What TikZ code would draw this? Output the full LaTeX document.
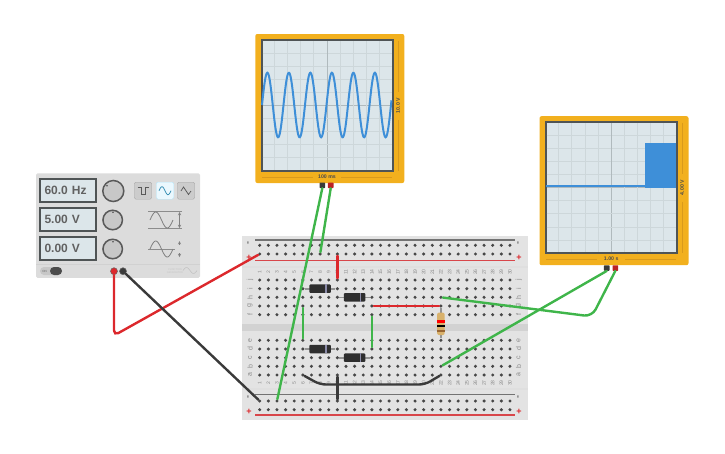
\documentclass[tikz,border=0pt]{standalone}
\usepackage{fontspec}
\setmainfont{Liberation Sans}
\usetikzlibrary{calc}
\definecolor{caseOrange}{HTML}{F2B01E}
\definecolor{caseLine}{HTML}{D99A1C}
\definecolor{screenBlue}{HTML}{DCE6EA}
\definecolor{gridGray}{HTML}{CDD7DA}
\definecolor{gridMid}{HTML}{B0BABD}
\definecolor{traceBlue}{HTML}{3E8FD8}
\definecolor{boardGray}{HTML}{E3E3E3}
\definecolor{bandGray}{HTML}{D2D2D2}
\definecolor{panelGray}{HTML}{DCDCDC}
\definecolor{darkEdge}{HTML}{4F5455}
\definecolor{wireRed}{HTML}{DC282C}
\definecolor{wireGreen}{HTML}{3FB54A}
\definecolor{wireBlack}{HTML}{3A3A3A}
\definecolor{railRed}{HTML}{D8464A}
\definecolor{tanBody}{HTML}{D9B26C}
\tikzset{
  holeDecorate/.style={shape=circle,inner sep=0pt,minimum size=3.4pt,fill=black!72},
  wireDecorate/.style={-,line width=2.4pt,line cap=round},
  numberDecorate/.style={inner sep=0pt,rotate=90,text=black!45,font=\fontsize{5}{5}\selectfont},
  railSign/.style={inner sep=0pt,font=\bfseries\fontsize{9}{9}\selectfont},
  scopeCase/.style={shape=rectangle,rounded corners=2pt,fill=caseOrange,minimum size=149pt,inner sep=0pt},
  scopeScreen/.style={shape=rectangle,draw=darkEdge,line width=2pt,fill=screenBlue,minimum size=131pt,inner sep=0pt},
  scopeText/.style={inner sep=0pt,text=black!70,font=\bfseries\fontsize{5.2}{5}\selectfont},
  scopeTerminal/.style={shape=rectangle,rounded corners=0.6pt,minimum width=5.6pt,minimum height=5.5pt,inner sep=0pt},
  displayBox/.style={shape=rectangle,draw=darkEdge,line width=2pt,fill=screenBlue,text=black!62,
    text width=47pt,inner xsep=4.5pt,inner ysep=0pt,minimum height=23.5pt,align=left,
    font=\bfseries\fontsize{12}{12}\selectfont},
  knobDecorate/.style={shape=circle,draw=black!65,line width=1.5pt,fill=black!22,inner sep=0pt},
  waveButton/.style={shape=rectangle,rounded corners=1.5pt,draw=black!35,fill=black!20,minimum width=17.5pt,minimum height=17pt,inner sep=0pt},
  diodeBody/.style={shape=rectangle,rounded corners=1pt,fill=black!82,minimum width=21.5pt,minimum height=8.5pt,inner sep=0pt},
  diodeBand/.style={shape=rectangle,fill=blue!25!black!45,minimum width=1.6pt,minimum height=8.5pt,inner sep=0pt},
  leadDecorate/.style={-,line width=1.6pt,draw=black!42}
}
\begin{document}
\begin{tikzpicture}[x=1pt,y=-1pt]
\useasboundingbox (0,0) rectangle (725,453);
%% breadboard
\node (board) at (385,328) [shape=rectangle,fill=boardGray,minimum width=286pt,minimum height=184pt,inner sep=0pt] {};
\fill[bandGray] (242,324) rectangle (528,331);
\fill[bandGray!70] (242,266) rectangle (528,268);
\fill[bandGray!70] (242,388) rectangle (528,390);
\foreach \y/\linecolor/\linewd in {240/black!55/1.4, 260.7/railRed/1.2, 394.7/black!55/1.4, 415/railRed/1.2}
{
  \draw[line width=\linewd pt,draw=\linecolor] (255,\y) -- (515,\y);
}
%% rail signs
\foreach \signname/\x/\y/\sign/\signrot/\signcolor in {
  sa/249/243/-/90/black!60, sb/249/258/+/0/wireRed, sc/519/243/-/90/black!60, sd/519/258/+/0/wireRed,
  se/249/397/-/90/black!60, sf/249/412/+/0/wireRed, sg/519/397/-/90/black!60, sh/519/412/+/0/wireRed}
{
  \node (\signname) at (\x,\y) [railSign,text=\signcolor,rotate=\signrot] {\sign};
}
%% holes and numbers
\foreach \c in {1,...,30}
{
  \pgfmathsetmacro{\colx}{259.7+8.63*(\c-1)}
  \foreach \rowname/\rowy in {
    tm/245.3, tp/254, j/280, i/288.7, h/297.3, g/306, f/314.7,
    e/340.3, d/349, c/357.7, b/366.3, a/375, bm/401, bp/409.7}
  {
    \node (\rowname\c) at (\colx,\rowy) [holeDecorate] {};
  }
  \node (numTop\c) at (\colx,272) [numberDecorate] {\c};
  \node (numBot\c) at (\colx,383) [numberDecorate] {\c};
}
%% row letters
\foreach \rowname/\rowy in {j/280, i/288.7, h/297.3, g/306, f/314.7, e/340.3, d/349, c/357.7, b/366.3, a/375}
{
  \node (letL\rowname) at (250,\rowy) [numberDecorate,font=\fontsize{7}{7}\selectfont] {\rowname};
  \node (letR\rowname) at (518.5,\rowy) [numberDecorate,font=\fontsize{7}{7}\selectfont] {\rowname};
}
%% diodes
\foreach \diodename/\startnode/\endnode in {diodeA/i6/i10, diodeB/h10/h14, diodeC/d6/d10, diodeD/c10/c14}
{
  \draw[leadDecorate] (\startnode) -- (\endnode);
  \node (\diodename) at ($(\startnode)!0.5!(\endnode)$) [diodeBody] {};
  \node (\diodename band) at (\diodename.center) [diodeBand,xshift=6pt] {};
}
%% resistor
\draw[leadDecorate] (g22) -- (e22);
\node (resistor) at (440.9,323.8) [shape=rectangle,rounded corners=2pt,fill=tanBody,minimum width=7.5pt,minimum height=22.5pt,inner sep=0pt] {};
\foreach \y/\bandcolor/\bandheight in {321.7/red/2.6, 326/black/2, 330.7/brown!80!black/2.4}
{
  \fill[\bandcolor] (437.2,\y-\bandheight/2) rectangle (444.6,\y+\bandheight/2);
}
%% oscilloscopes
\foreach \scopename/\cx/\cy/\timetext/\volttext in {
  scopeA/327/105.5/100 ms/10.0 V, scopeB/611.2/187.7/1.00 s/4.00 V}
{
  \node (\scopename) at (\cx+2.8,\cy+3) [scopeCase] {};
  \node (\scopename screen) at (\cx,\cy) [scopeScreen] {};
  \foreach \k in {-4,...,4}
  {
    \ifnum\k=0 \def\gridcolor{gridMid}\else\def\gridcolor{gridGray}\fi
    \draw[line width=1pt,draw=\gridcolor] (\cx+\k*13.1,\cy-64.5) -- (\cx+\k*13.1,\cy+64.5);
    \draw[line width=1pt,draw=\gridcolor] (\cx-64.5,\cy+\k*13.1) -- (\cx+64.5,\cy+\k*13.1);
  }
  \node (\scopename time) at (\cx,\cy+71.5) [scopeText] {\timetext};
  \node (\scopename volt) at (\cx+71,\cy) [scopeText,rotate=90] {\volttext};
  \draw[line width=0.5pt,draw=caseLine] (\cx-65,\cy+71.5) -- (\cx-14,\cy+71.5) (\cx+14,\cy+71.5) -- (\cx+65,\cy+71.5);
  \draw[line width=0.5pt,draw=caseLine] (\cx+71,\cy-65) -- (\cx+71,\cy-14) (\cx+71,\cy+14) -- (\cx+71,\cy+65);
}
%% traces
\draw[line width=2pt,draw=traceBlue] plot[domain=262:391.5,samples=220,smooth] (\x,{105-32.3*sin((\x-262)*16.744)});
\fill[traceBlue] (546,185) rectangle (645,187.2);
\fill[traceBlue] (645,143.3) rectangle (676,188.3);
%% oscilloscope terminals
\foreach \termname/\x/\y/\termcolor in {
  scopeAneg/322.3/185.3/wireBlack, scopeApos/330.7/185.3/wireRed!85!black,
  scopeBneg/606.7/268/wireBlack, scopeBpos/615.3/268/wireRed!85!black}
{
  \node (\termname) at (\x,\y) [scopeTerminal,fill=\termcolor] {};
}
%% function generator
\node (generator) at (118,225.5) [shape=rectangle,rounded corners=1.5pt,fill=panelGray,minimum width=164pt,minimum height=104.5pt,inner sep=0pt] {};
\fill[black!18] (36,264) rectangle (200,265);
\foreach \dispname/\y/\disptext in {dispFreq/190.5/60.0 Hz, dispAmp/219.5/5.00 V, dispOff/248.4/0.00 V}
{
  \node (\dispname) at (68,\y) [displayBox] {\disptext};
}
\foreach \knobname/\x/\y/\knobsize/\dotx/\doty in {
  knobFreq/113.3/191/21/107/185.7, knobAmp/112.7/220/19.5/113/212.3, knobOff/112.7/249/19.5/113/241.7}
{
  \node (\knobname) at (\x,\y) [knobDecorate,minimum size=\knobsize pt] {};
  \fill[black!70] (\dotx,\doty) circle (0.9);
}
%% waveform buttons
\node (btnSquare) at (143,190.7) [waveButton] {};
\node (btnSine) at (165,190.7) [waveButton,draw=cyan!30,fill=cyan!8] {};
\node (btnTri) at (186,190.7) [waveButton] {};
\draw[line width=0.7pt,draw=black!65] (137.5,187) -- (141,187) -- (141,194) -- (145,194) -- (145,187) -- (148.5,187);
\draw[line width=0.8pt,draw=cyan!70!black] plot[domain=159:171,samples=30,smooth] (\x,{190.7-4*sin((\x-159)*30)});
\draw[line width=0.7pt,draw=black!65] (181,191) -- (183.5,187) -- (188.5,194.5) -- (191,191);
%% amplitude and offset icons
\draw[line width=0.5pt,draw=black!45] (148,211.7) -- (182,211.7) (148,228.3) -- (182,228.3) (148,249) -- (175,249);
\draw[line width=0.8pt,draw=black!50] plot[domain=150:173,samples=40,smooth] (\x,{220-8*sin((\x-150)*15.65)});
\draw[line width=0.8pt,draw=black!50] plot[domain=150:173,samples=40,smooth] (\x,{249-8*sin((\x-150)*15.65)});
\draw[line width=0.5pt,draw=black!50,<->,>=stealth] (179.5,212) -- (179.5,228);
\draw[line width=0.5pt,draw=black!50,->,>=stealth] (179.5,245) -- (179.5,241);
\draw[line width=0.5pt,draw=black!50,->,>=stealth] (179.5,253) -- (179.5,257);
%% switch and maker mark
\node (switchPill) at (51,271) [shape=rectangle,rounded corners=4pt,fill=black!22,minimum width=22pt,minimum height=8pt,inner sep=0pt] {};
\node (switchText) at (44.5,271) [inner sep=0pt,text=black!60,font=\fontsize{3}{3}\selectfont] {ON};
\node (switchKnob) at (56,271) [shape=rectangle,rounded corners=4pt,fill=black!70,minimum width=12pt,minimum height=8pt,inner sep=0pt] {};
\node (makerMark) at (175,270.8) [inner sep=0pt,align=center,text=black!22,font=\fontsize{2.6}{3}\selectfont] {FUNCTION\\GENERATOR};
\draw[line width=0.5pt,draw=black!25] plot[domain=183:197,samples=20,smooth] (\x,{270.5-3*sin((\x-183)*25.7)});
%% generator terminals
\node (genPos) at (114,271.2) [shape=circle,draw=black!60,line width=0.5pt,fill=wireRed,minimum size=7pt,inner sep=0pt] {};
\node (genNeg) at (123,271.2) [shape=circle,draw=black!60,line width=0.5pt,fill=wireBlack,minimum size=7pt,inner sep=0pt] {};
%% bend points
\coordinate (genBend) at (114,335.5);
\coordinate (scopeBend) at (592,316.5);
\coordinate (busLeft) at (320,384.5);
\coordinate (busRight) at (425,384.5);
%% wires
\draw[wireDecorate,draw=wireRed,rounded corners=5pt] (genPos.south) -- (genBend) -- (tp1);
\draw[wireDecorate,draw=wireRed] (tp10) -- (j10);
\draw[wireDecorate,draw=wireRed] (g14) -- (g22);
\draw[wireDecorate,draw=wireBlack] (genNeg) -- (bm1);
\draw[wireDecorate,draw=wireBlack] (a10) -- (bm10);
\draw[wireDecorate,draw=wireBlack,rounded corners=6pt] (a6) -- (busLeft) -- (busRight) -- (a22);
\path
\foreach \startnode/\endnode in {
  scopeAneg.south/bm3, scopeApos.south/tp8, g6/e6, f14/d14, scopeBneg.south/b22}
{
  (\startnode) edge[wireDecorate,draw=wireGreen] (\endnode)
};
\draw[wireDecorate,draw=wireGreen,rounded corners=8pt] (scopeBpos.south) -- (scopeBend) -- (h22);
\end{tikzpicture}
\end{document}
